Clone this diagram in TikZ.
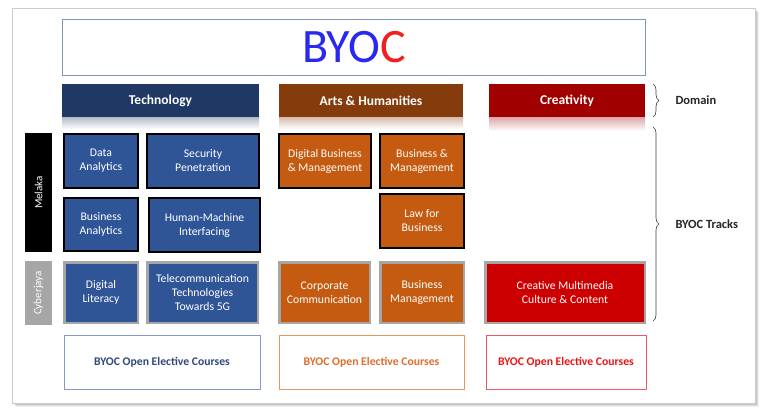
\documentclass[tikz,border=0pt]{standalone}
\usepackage{fontspec}
\setmainfont{Carlito}
\usetikzlibrary{decorations.pathreplacing}
\definecolor{techhead}{RGB}{31,56,100}
\definecolor{techbox}{RGB}{47,85,151}
\definecolor{artshead}{RGB}{132,60,12}
\definecolor{artsbox}{RGB}{197,90,17}
\definecolor{crehead}{RGB}{160,0,0}
\definecolor{crebox}{RGB}{204,0,0}
\definecolor{cybgray}{RGB}{166,166,166}
\definecolor{titleblue}{RGB}{40,40,240}
\definecolor{titlered}{RGB}{240,30,30}
\definecolor{titlebd}{RGB}{132,151,176}
\definecolor{bluetxt}{RGB}{47,72,125}
\definecolor{bluebd}{RGB}{130,155,200}
\definecolor{orgtxt}{RGB}{222,110,45}
\definecolor{orgbd}{RGB}{232,150,100}
\definecolor{redtxt}{RGB}{235,20,20}
\definecolor{redbd}{RGB}{235,90,100}
\tikzset{
  cell/.style={rectangle, text=white, align=center, inner sep=0pt,
    font=\fontsize{11.7}{14}\selectfont},
  melbox/.style={cell, draw=black, line width=2pt},
  cybbox/.style={cell, draw=cybgray, line width=2.5pt},
  header/.style={rectangle, text=white, align=center, inner sep=0pt,
    font=\fontsize{13.5}{15}\selectfont\bfseries, minimum height=33pt},
  sidelabel/.style={rectangle, text=white, inner sep=0pt, minimum width=27pt,
    font=\fontsize{10}{12}\selectfont},
  vlabel/.style={rotate=90, text=white, inner sep=0pt, font=\fontsize{11}{13}\selectfont},
  elective/.style={rectangle, fill=white, line width=0.8pt, inner sep=0pt,
    minimum height=54pt, font=\fontsize{11.7}{14}\selectfont\bfseries},
  bracepath/.style={decorate, decoration={brace, amplitude=6pt}, draw=black!75, line width=0.6pt},
  sidetext/.style={anchor=west, font=\fontsize{12.5}{14}\selectfont\bfseries, text=black!85}
}
\begin{document}
\begin{tikzpicture}[x=1pt,y=-1pt]
\useasboundingbox (0,0) rectangle (768,416);
\fill[white] (0,0) rectangle (768,416);
% frame with soft shadow
\foreach \o/\op in {4/0.06,3/0.08,2/0.10,1/0.12} {
  \fill[black, opacity=\op] (12+\o,8+\o) rectangle (755+\o,403+\o);
}
\fill[white] (12,8) rectangle (755,403);
\draw[black!20, line width=0.7pt] (12,8) rectangle (755,403);

% title
\node[rectangle, draw=titlebd, line width=0.8pt, minimum width=583pt, minimum height=56pt, inner sep=0pt] (title) at (353.5,47) {};
\node[inner sep=0pt, font=\fontsize{48}{48}\selectfont] (titletext) at (354,47) {\textcolor{titleblue}{BYO}\textcolor{titlered}{C}};

% header reflections
\shade[top color=techhead!35, bottom color=white] (62,117) rectangle (259,129);
\shade[top color=artshead!35, bottom color=white] (279,117) rectangle (463,129);
\shade[top color=crehead!35, bottom color=white] (489,117) rectangle (645,131);

% headers
\node[header, fill=techhead, minimum width=197pt] (tech) at (160.5,100.5) {Technology};
\node[header, fill=artshead, minimum width=184pt] (arts) at (371,100.5) {Arts \& Humanities};
\node[header, fill=crehead, minimum width=156pt] (crea) at (567,100.5) {Creativity};

% side labels
\node[sidelabel, fill=black, minimum height=119pt] (melaka) at (38.5,192.5) {};
\node[vlabel] (melakatext) at (38.5,192.5) {Melaka};
\node[sidelabel, fill=cybgray, minimum height=64pt] (cyber) at (38.5,293) {};
\node[vlabel] (cybertext) at (38.5,293) {Cyberjaya};

% technology
\node[melbox, fill=techbox, minimum width=74pt, minimum height=54pt] (da) at (101,161) {Data\\Analytics};
\node[melbox, fill=techbox, minimum width=112pt, minimum height=54pt] (sp) at (203,161) {Security\\Penetration};
\node[melbox, fill=techbox, minimum width=74pt, minimum height=53pt] (ba) at (101,224.5) {Business\\Analytics};
\node[melbox, fill=techbox, minimum width=111pt, minimum height=54pt] (hm) at (204.5,225) {Human-Machine\\Interfacing};
\node[cybbox, fill=techbox, minimum width=73.5pt, minimum height=60.5pt] (dl) at (101,292.5) {Digital\\Literacy};
\node[cybbox, fill=techbox, minimum width=110.5pt, minimum height=60.5pt] (tc) at (202.5,292.5) {Telecommunication\\Technologies\\Towards 5G};

% arts
\node[melbox, fill=artsbox, minimum width=92pt, minimum height=54pt] (dbm) at (325,161) {Digital Business\\\& Management};
\node[melbox, fill=artsbox, minimum width=84pt, minimum height=54pt] (bam) at (422,161) {Business \&\\Management};
\node[melbox, fill=artsbox, minimum width=84pt, minimum height=54pt] (lfb) at (422,221) {Law for\\Business};
\node[cybbox, fill=artsbox, minimum width=90.5pt, minimum height=60.5pt] (cc) at (324.5,292.5) {Corporate\\Communication};
\node[cybbox, fill=artsbox, minimum width=83.5pt, minimum height=60.5pt] (bm) at (422,292.5) {Business\\Management};

% creativity
\node[cybbox, fill=crebox, minimum width=159.5pt, minimum height=60.5pt] (cm) at (565,292.5) {Creative Multimedia\\Culture \& Content};

% electives
\node[elective, draw=bluebd, text=bluetxt, minimum width=196pt] (e1) at (162,362) {BYOC Open Elective Courses};
\node[elective, draw=orgbd, text=orgtxt, minimum width=185pt] (e2) at (371.5,362) {BYOC Open Elective Courses};
\node[elective, draw=redbd, text=redtxt, minimum width=160pt] (e3) at (566,362) {BYOC Open Elective Courses};

% braces
\coordinate (db1) at (653,84);
\coordinate (db2) at (653,117);
\draw[bracepath] (db1) -- (db2);
\node[sidetext] (domain) at (672,100.5) {Domain};
\coordinate (tb1) at (653,127);
\coordinate (tb2) at (653,321);
\draw[bracepath] (tb1) -- (tb2);
\node[sidetext] (tracks) at (672,224) {BYOC Tracks};
\end{tikzpicture}
\end{document}
